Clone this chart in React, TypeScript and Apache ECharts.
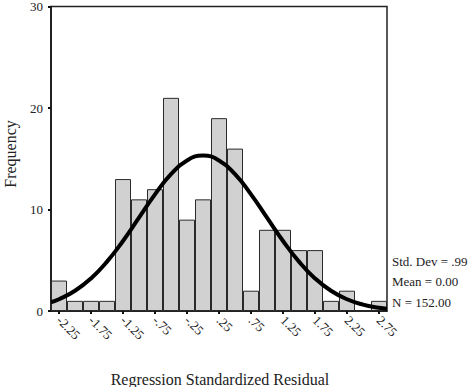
import React, { useEffect, useRef } from "react";
import * as echarts from "echarts";

const binCenters = ["-2.25", "-2.00", "-1.75", "-1.50", "-1.25", "-1.00", "-.75", "-.50", "-.25", "0.00", ".25", ".50", ".75", "1.00", "1.25", "1.50", "1.75", "2.00", "2.25", "2.50", "2.75"];
const frequencies = [3, 1, 1, 1, 13, 11, 12, 21, 9, 11, 19, 16, 2, 8, 8, 6, 6, 1, 2, 0, 1];
const curveX = [-2.375, -2.25, -2.0, -1.75, -1.5, -1.25, -1.0, -0.75, -0.5, -0.25, 0, 0.25, 0.5, 0.75, 1.0, 1.25, 1.5, 1.75, 2.0, 2.25, 2.5, 2.75, 2.875];
const curveY = [0.86, 1.16, 1.99, 3.21, 4.86, 6.9, 9.19, 11.49, 13.48, 14.83, 15.31, 14.83, 13.48, 11.49, 9.19, 6.9, 4.86, 3.21, 1.99, 1.16, 0.63, 0.32, 0.23];
const yTicks = { min: 0, max: 30, interval: 10 };
const statsLines = ["Std. Dev = .99", "Mean = 0.00", "N = 152.00"];
const xTitle = "Regression Standardized Residual";
const yTitle = "Frequency";

const FONT = "'Liberation Serif', 'DejaVu Serif', serif";

export default function App() {
  const ref = useRef<HTMLDivElement>(null);
  useEffect(() => {
    if (!ref.current) return;
    const chart = echarts.init(ref.current, undefined, { renderer: "svg" });
    chart.setOption({
      animation: false,
      backgroundColor: "#ffffff",
      grid: {
        left: 51,
        right: 87,
        top: 5,
        bottom: 76,
        show: true,
        borderColor: "#222",
        borderWidth: 1.5,
        backgroundColor: "transparent",
      },
      xAxis: [
        {
          type: "category",
          data: binCenters,
          boundaryGap: true,
          axisLine: { show: true, onZero: false, lineStyle: { color: "#111", width: 1.5 } },
          axisTick: { show: true, interval: 1, alignWithLabel: true, length: 3, lineStyle: { color: "#111", width: 2 } },
          axisLabel: {
            interval: 1,
            rotate: -45,
            margin: 7,
            fontFamily: FONT,
            fontSize: 13,
            color: "#222",
            formatter: (v: string) => v,
          },
          splitLine: { show: false },
        },
        {
          type: "value",
          min: -2.375,
          max: 2.875,
          show: false,
          axisLine: { show: false, onZero: false },
          splitLine: { show: false },
        },
      ],
      yAxis: {
        type: "value",
        min: yTicks.min,
        max: yTicks.max,
        interval: yTicks.interval,
        axisLine: { show: true, onZero: false, lineStyle: { color: "#111", width: 1.5 } },
        axisTick: { show: true, length: 3, lineStyle: { color: "#111", width: 2 } },
        axisLabel: { margin: 8, fontFamily: FONT, fontSize: 13, color: "#222" },
        splitLine: { show: false },
      },
      series: [
        {
          type: "bar",
          xAxisIndex: 0,
          data: frequencies,
          barCategoryGap: "0%",
          itemStyle: { color: "#d1d1d1", borderColor: "#2a2a2a", borderWidth: 1 },
        },
        {
          type: "line",
          xAxisIndex: 1,
          data: curveX.map((x, i) => [x, curveY[i]]),
          smooth: true,
          symbol: "none",
          lineStyle: { color: "#000", width: 4 },
          z: 5,
        },
      ],
      graphic: [
        {
          type: "text",
          x: 10,
          y: 154,
          rotation: Math.PI / 2,
          style: { text: yTitle, font: `16px ${FONT}`, fill: "#222", align: "center", verticalAlign: "middle" },
        },
        {
          type: "text",
          x: 220,
          y: 379,
          style: { text: xTitle, font: `16px ${FONT}`, fill: "#222", align: "center", verticalAlign: "middle" },
        },
        ...statsLines.map((t, i) => ({
          type: "text",
          x: 392,
          y: 261 + i * 20.5,
          style: { text: t, font: `13px ${FONT}`, fill: "#222", align: "left", verticalAlign: "middle" },
        })),
      ],
    });
    return () => chart.dispose();
  }, []);
  return <div ref={ref} style={{ width: 474, height: 387, position: "absolute", left: 0, top: 0 }} />;
}
